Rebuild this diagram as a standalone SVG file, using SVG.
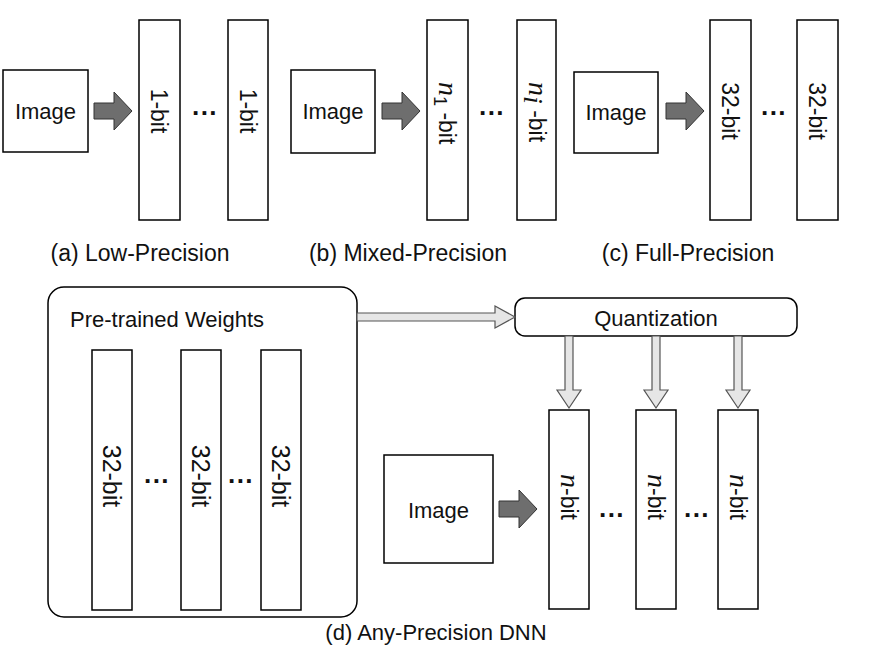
<svg xmlns="http://www.w3.org/2000/svg" width="894" height="666" viewBox="0 0 894 666">
<style>
.b{fill:#fff;stroke:#000;stroke-width:1.5}
.t{font-family:"Liberation Sans",Arial,sans-serif;font-size:22px;fill:#111}
.r{font-size:23px}
.r2{font-size:25px}
.c{font-size:23px}
.m{font-family:"Liberation Serif","DejaVu Serif",serif;font-style:italic;font-size:28px}
.d{font-family:"Liberation Sans",Arial,sans-serif;font-size:26px;font-weight:bold;fill:#111}
.ga{fill:#6e6e6e;stroke:#333;stroke-width:1}
.la{fill:#e6e6e6;stroke:#555;stroke-width:1.2}
</style>
<defs>
<path id="fa" d="M0,-8 H20 V-19 L38,0 L20,19 V8 H0 Z"/>
<path id="da" d="M-4,0 H4 V54 H12 L0,72 L-12,54 H-4 Z"/>
</defs>
<rect width="894" height="666" fill="#fff"/>
<g id="a">
<rect class="b" x="3" y="70" width="85" height="82"/>
<text class="t" x="45.5" y="119" text-anchor="middle">Image</text>
<use href="#fa" class="ga" x="94" y="111"/>
<rect class="b" x="139" y="20" width="41" height="200"/>
<text class="t r" transform="translate(151,111) rotate(90)" text-anchor="middle">1-bit</text>
<text class="d" x="205" y="122" text-anchor="middle">···</text>
<rect class="b" x="228" y="20" width="40" height="200"/>
<text class="t r" transform="translate(240,111) rotate(90)" text-anchor="middle">1-bit</text>
<text class="t c" x="140" y="261" text-anchor="middle">(a) Low-Precision</text>
</g>
<g id="b">
<rect class="b" x="291" y="70" width="84" height="83"/>
<text class="t" x="333" y="119" text-anchor="middle">Image</text>
<use href="#fa" class="ga" x="382" y="111"/>
<rect class="b" x="427" y="20" width="41" height="200"/>
<text class="t r" transform="translate(439,82) rotate(90)"><tspan class="m">n</tspan><tspan font-size="18" dy="5">1</tspan><tspan dy="-5"> -bit</tspan></text>
<text class="d" x="492" y="122" text-anchor="middle">···</text>
<rect class="b" x="517" y="20" width="39" height="200"/>
<text class="t r" transform="translate(529,82) rotate(90)"><tspan class="m">n</tspan><tspan class="m" font-size="18" dy="5">i</tspan><tspan dy="-5"> -bit</tspan></text>
<text class="t c" x="408" y="261" text-anchor="middle">(b) Mixed-Precision</text>
</g>
<g id="c">
<rect class="b" x="574" y="72" width="84" height="81"/>
<text class="t" x="616" y="120" text-anchor="middle">Image</text>
<use href="#fa" class="ga" x="666" y="111"/>
<rect class="b" x="710" y="20" width="41" height="200"/>
<text class="t r" transform="translate(722,111) rotate(90)" text-anchor="middle">32-bit</text>
<text class="d" x="774" y="122" text-anchor="middle">···</text>
<rect class="b" x="797" y="20" width="41" height="200"/>
<text class="t r" transform="translate(809,111) rotate(90)" text-anchor="middle">32-bit</text>
<text class="t c" x="688" y="261" text-anchor="middle">(c) Full-Precision</text>
</g>
<g id="pretrained">
<rect class="b" x="48" y="287" width="309" height="330" rx="16"/>
<text class="t" x="70" y="327">Pre-trained Weights</text>
<rect class="b" x="92" y="350" width="40" height="260"/>
<text class="t r2" transform="translate(103,476) rotate(90)" text-anchor="middle">32-bit</text>
<text class="d" x="157" y="490" text-anchor="middle">···</text>
<rect class="b" x="181" y="350" width="40" height="260"/>
<text class="t r2" transform="translate(192,476) rotate(90)" text-anchor="middle">32-bit</text>
<text class="d" x="241" y="490" text-anchor="middle">···</text>
<rect class="b" x="261" y="350" width="40" height="260"/>
<text class="t r2" transform="translate(272,476) rotate(90)" text-anchor="middle">32-bit</text>
</g>
<g id="quant">
<rect class="b" x="515" y="298" width="282" height="38" rx="10"/>
<text class="t" x="656" y="326" text-anchor="middle">Quantization</text>
</g>
<g id="d">
<rect class="b" x="384" y="455" width="109" height="108"/>
<text class="t" x="438.5" y="518" text-anchor="middle">Image</text>
<use href="#fa" class="ga" x="499" y="509"/>
<rect class="b" x="549" y="410" width="40" height="199"/>
<text class="t r" transform="translate(561,474) rotate(90)"><tspan class="m">n</tspan><tspan>-bit</tspan></text>
<text class="d" x="612" y="524" text-anchor="middle">···</text>
<rect class="b" x="636" y="410" width="40" height="199"/>
<text class="t r" transform="translate(648,474) rotate(90)"><tspan class="m">n</tspan><tspan>-bit</tspan></text>
<text class="d" x="697" y="524" text-anchor="middle">···</text>
<rect class="b" x="718" y="410" width="40" height="199"/>
<text class="t r" transform="translate(730,474) rotate(90)"><tspan class="m">n</tspan><tspan>-bit</tspan></text>
<text class="t" x="436" y="640" text-anchor="middle" font-size="24">(d) Any-Precision DNN</text>
</g>
<g id="connectors">
<path class="la" d="M357,313 H495 V306 L515,317 L495,328 V321 H357 Z"/>
<use href="#da" class="la" x="569" y="336"/>
<use href="#da" class="la" x="656" y="336"/>
<use href="#da" class="la" x="738" y="336"/>
</g>
</svg>
